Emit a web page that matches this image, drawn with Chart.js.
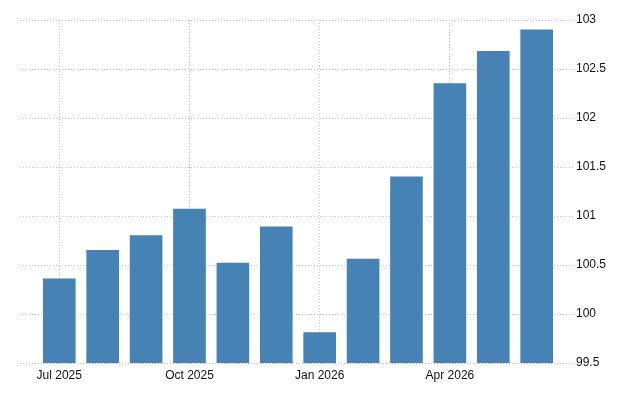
<!DOCTYPE html>
<html>
<head>
<meta charset="utf-8">
<script src="https://cdn.jsdelivr.net/npm/chart.js@4"></script>
<style>
  html, body { margin: 0; padding: 0; background: #fff; }
  #wrap { width: 640px; height: 400px; }
</style>
</head>
<body>
<div id="wrap"><canvas id="c" width="640" height="400"></canvas></div>
<script>
const categories = ['Jul 2025','Aug 2025','Sep 2025','Oct 2025','Nov 2025','Dec 2025','Jan 2026','Feb 2026','Mar 2026','Apr 2026','May 2026','Jun 2026'];
const values = [100.36, 100.65, 100.80, 101.07, 100.52, 100.89, 99.81, 100.56, 101.40, 102.35, 102.68, 102.90];
const xTickIndices = [0, 3, 6, 9];
const yTicks = [99.5, 100, 100.5, 101, 101.5, 102, 102.5, 103];

const gridColor = '#c4c4c4';
const textColor = '#111';

new Chart(document.getElementById('c'), {
  type: 'bar',
  data: {
    datasets: [{
      data: values.map((v, i) => ({ x: i, y: v })),
      backgroundColor: '#4682b4',
      borderWidth: 0,
      barThickness: 32
    }]
  },
  options: {
    responsive: false,
    animation: false,
    layout: { padding: { left: 20, top: 20, right: 0, bottom: 0 } },
    plugins: { legend: { display: false }, tooltip: { enabled: false } },
    scales: {
      x: {
        type: 'linear',
        offset: false,
        bounds: 'ticks',
        min: -0.905,
        max: 11.86,
        afterBuildTicks: (s) => { s.ticks = xTickIndices.map(v => ({ value: v })); },
        afterFit: (s) => { s.height = 37; },
        grid: { color: gridColor, drawTicks: false, offset: false },
        border: { display: false, dash: [1, 2] },
        ticks: {
          padding: 5,
          color: textColor,
          font: { family: 'Liberation Sans, Arial, sans-serif', size: 12 },
          callback: (v) => categories[v],
          maxRotation: 0,
          autoSkip: false
        }
      },
      y: {
        position: 'right',
        min: 99.5,
        max: 103,
        afterBuildTicks: (s) => { s.ticks = yTicks.map(v => ({ value: v })); },
        afterFit: (s) => { s.width = 66; },
        grid: { color: gridColor, drawTicks: false },
        border: { display: false, dash: [1, 2] },
        ticks: {
          padding: 2,
          color: textColor,
          font: { family: 'Liberation Sans, Arial, sans-serif', size: 12 },
          callback: (v) => String(v)
        }
      }
    }
  }
});
</script>
</body>
</html>
